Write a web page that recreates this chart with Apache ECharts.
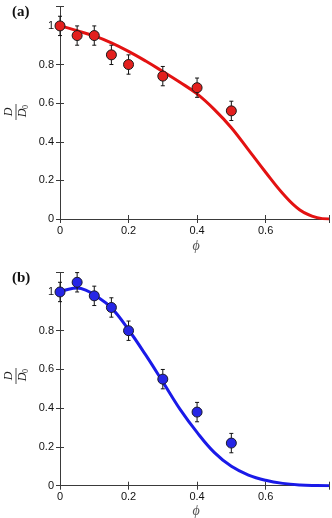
<!DOCTYPE html>
<html><head><meta charset="utf-8">
<script src="https://cdn.jsdelivr.net/npm/echarts@6/dist/echarts.min.js"></script>
<style>html,body{margin:0;padding:0;background:#fff}#c{width:332px;height:518px}</style>
</head><body><div id="c"></div>
<script>
// measured points
const phi = [0, 0.05, 0.1, 0.15, 0.2, 0.3, 0.4, 0.5];
const dA = [1.0, 0.95, 0.95, 0.85, 0.80, 0.74, 0.68, 0.56];
const errA = [0.05, 0.05, 0.05, 0.05, 0.05, 0.05, 0.05, 0.05];
const dB = [1.0, 1.05, 0.98, 0.92, 0.80, 0.55, 0.38, 0.22];
const errB = [0.05, 0.05, 0.05, 0.05, 0.05, 0.05, 0.05, 0.05];
// fitted curves
const curveXA = [0, 0.05, 0.1, 0.15, 0.2, 0.25, 0.3, 0.35, 0.4, 0.45, 0.5, 0.55, 0.6, 0.65, 0.7, 0.75, 0.785];
const curveYA = [1.0, 0.975, 0.948, 0.912, 0.868, 0.818, 0.764, 0.708, 0.648, 0.568, 0.473, 0.358, 0.242, 0.132, 0.047, 0.007, 0];
const curveXB = [0, 0.025, 0.05, 0.075, 0.1, 0.15, 0.2, 0.25, 0.3, 0.35, 0.4, 0.45, 0.5, 0.55, 0.6, 0.65, 0.7, 0.75, 0.785];
const curveYB = [1.0, 1.014, 1.02, 1.01, 0.985, 0.918, 0.805, 0.675, 0.536, 0.395, 0.275, 0.172, 0.1, 0.055, 0.028, 0.012, 0.004, 0.001, 0];
const xTicks = ['0', '0.2', '0.4', '0.6'];
const yTicks = ['0', '0.2', '0.4', '0.6', '0.8', '1'];

const XMAX = 0.785, YMAX = 1.1;
const axisCol = '#3a3a3a';
function fmt(v){ const r = Math.round(v*10)/10; if (Math.abs(v - r) > 1e-6 || Math.round(r*10) % 2 !== 0) return ''; return String(r); }

function xAxes(gi){
  return [
    {type:'value', gridIndex:gi, min:0, max:XMAX, interval:0.2,
     axisLine:{show:true,lineStyle:{color:axisCol,width:1}},
     axisTick:{show:true,inside:true,length:4,lineStyle:{color:axisCol}},
     axisLabel:{color:'#111',fontSize:11,fontFamily:'Liberation Sans, Arial',margin:6,
       formatter:v=> xTicks.indexOf(fmt(v))>=0 ? fmt(v) : ''},
     splitLine:{show:false}},
    {type:'value', gridIndex:gi, position:'top', min:0, max:XMAX, interval:0.2,
     axisLine:{show:true,lineStyle:{color:axisCol,width:1}},
     axisTick:{show:true,inside:true,length:4,lineStyle:{color:axisCol}},
     axisLabel:{show:false}, splitLine:{show:false}}
  ];
}
function yAxes(gi){
  return [
    {type:'value', gridIndex:gi, min:0, max:YMAX, interval:0.2,
     axisLine:{show:true,lineStyle:{color:axisCol,width:1}},
     axisTick:{show:true,inside:true,length:4,lineStyle:{color:axisCol}},
     axisLabel:{color:'#111',fontSize:11,fontFamily:'Liberation Sans, Arial',margin:6,
       formatter:v=> yTicks.indexOf(fmt(v))>=0 ? fmt(v) : ''},
     splitLine:{show:false}},
    {type:'value', gridIndex:gi, position:'right', min:0, max:YMAX, interval:0.2,
     axisLine:{show:true,lineStyle:{color:axisCol,width:1}},
     axisTick:{show:true,inside:true,length:4,lineStyle:{color:axisCol}},
     axisLabel:{show:false}, splitLine:{show:false}}
  ];
}

function errSeries(xi, yi, ys, errs){
  return {
    type:'custom', xAxisIndex:xi, yAxisIndex:yi, z:3,
    data: phi.map((x,i)=>[x, ys[i]-errs[i], ys[i]+errs[i]]),
    renderItem:function(params, api){
      const lo = api.coord([api.value(0), api.value(1)]);
      const hi = api.coord([api.value(0), api.value(2)]);
      const w = 2;
      return {type:'group', children:[
        {type:'line', shape:{x1:lo[0],y1:lo[1],x2:hi[0],y2:hi[1]}, style:{stroke:'#111',lineWidth:1}},
        {type:'line', shape:{x1:lo[0]-w,y1:lo[1],x2:lo[0]+w,y2:lo[1]}, style:{stroke:'#111',lineWidth:1}},
        {type:'line', shape:{x1:hi[0]-w,y1:hi[1],x2:hi[0]+w,y2:hi[1]}, style:{stroke:'#111',lineWidth:1}}
      ]};
    }
  };
}

function fraction(cx, cy){
  return {type:'group', x:cx, y:cy, rotation:Math.PI/2, children:[
    {type:'text', x:0, y:-1, style:{text:'D', font:'italic 12px "Liberation Serif", "DejaVu Serif", serif', fill:'#222', align:'center', verticalAlign:'bottom'}},
    {type:'line', shape:{x1:-8,y1:0,x2:8,y2:0}, style:{stroke:'#222',lineWidth:0.8}},
    {type:'text', x:-1, y:1, style:{text:'D', font:'italic 12px "Liberation Serif", "DejaVu Serif", serif', fill:'#222', align:'center', verticalAlign:'top'}},
    {type:'text', x:5, y:6, style:{text:'0', font:'8px "Liberation Serif", serif', fill:'#222', align:'center', verticalAlign:'top'}}
  ]};
}

const option = {
  animation:false,
  backgroundColor:'#fff',
  grid:[
    {left:60, right:1, top:6.6, height:212.4},
    {left:60, right:1, top:272.6, height:213.1}
  ],
  xAxis:[...xAxes(0), ...xAxes(1)],
  yAxis:[...yAxes(0), ...yAxes(1)],
  series:[
    {type:'line', xAxisIndex:0, yAxisIndex:0, data:curveXA.map((x,i)=>[x,curveYA[i]]), smooth:0.4, showSymbol:false, symbol:'none',
     lineStyle:{color:'#e31212', width:3}, z:2},
    errSeries(0,0,dA,errA),
    {type:'scatter', xAxisIndex:0, yAxisIndex:0, data:phi.map((x,i)=>[x,dA[i]]), symbol:'circle', symbolSize:10,
     itemStyle:{color:'#e3201e', borderColor:'#1a1a1a', borderWidth:1, opacity:1}, z:4},
    {type:'line', xAxisIndex:2, yAxisIndex:2, data:curveXB.map((x,i)=>[x,curveYB[i]]), smooth:0.4, showSymbol:false, symbol:'none',
     lineStyle:{color:'#1a1ae8', width:3}, z:2},
    errSeries(2,2,dB,errB),
    {type:'scatter', xAxisIndex:2, yAxisIndex:2, data:phi.map((x,i)=>[x,dB[i]]), symbol:'circle', symbolSize:10,
     itemStyle:{color:'#2626e6', borderColor:'#1a1a2a', borderWidth:1, opacity:1}, z:4}
  ],
  graphic:[
    {type:'text', x:12, y:5, style:{text:'(a)', font:'bold 15px "Liberation Serif", "DejaVu Serif", serif', fill:'#111'}},
    {type:'text', x:12, y:271, style:{text:'(b)', font:'bold 15px "Liberation Serif", "DejaVu Serif", serif', fill:'#111'}},
    {type:'text', x:196, y:246, style:{text:'ϕ', font:'italic 14px "Liberation Serif", "DejaVu Serif", serif', fill:'#555', align:'center', verticalAlign:'middle'}},
    {type:'text', x:196, y:511, style:{text:'ϕ', font:'italic 14px "Liberation Serif", "DejaVu Serif", serif', fill:'#555', align:'center', verticalAlign:'middle'}},
    fraction(16, 112),
    fraction(16, 376)
  ]
};
const chart = echarts.init(document.getElementById('c'), null, {renderer:'canvas'});
chart.setOption(option);
</script>
</body></html>
